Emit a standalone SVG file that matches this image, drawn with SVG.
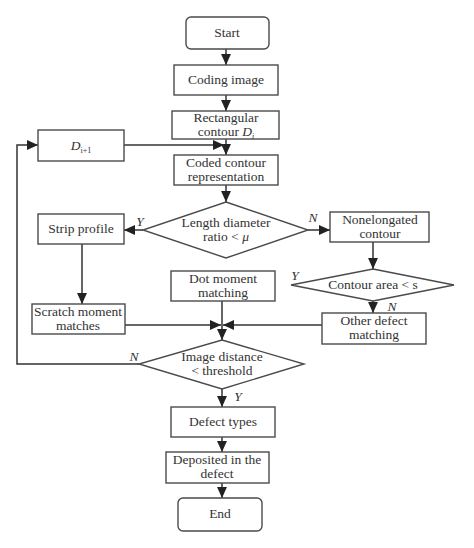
<svg xmlns="http://www.w3.org/2000/svg" width="474" height="548" viewBox="0 0 474 548">
<style>
.box{fill:#fff;stroke:#4a4a4a;stroke-width:1.4}
.ln{fill:none;stroke:#333;stroke-width:1.5}
text{font-family:"Liberation Serif","Times New Roman",serif;font-size:13.5px;fill:#333;text-anchor:middle}
.lab{font-style:italic}
</style>
<defs>
<marker id="ah" markerUnits="userSpaceOnUse" markerWidth="11" markerHeight="11" viewBox="0 0 10 10" refX="10" refY="5" orient="auto">
<path d="M0,0.5 L10,5 L0,9.5 Z" fill="#222"/>
</marker>
</defs>
<rect width="474" height="548" fill="#fff"/>
<g id="connectors">
<line class="ln" x1="226" y1="49" x2="226" y2="65" marker-end="url(#ah)"/>
<line class="ln" x1="226" y1="95" x2="226" y2="111" marker-end="url(#ah)"/>
<line class="ln" x1="226" y1="139" x2="226" y2="155" marker-end="url(#ah)"/>
<line class="ln" x1="124" y1="145" x2="224" y2="145" marker-end="url(#ah)"/>
<line class="ln" x1="226" y1="185" x2="226" y2="202" marker-end="url(#ah)"/>
<line class="ln" x1="143" y1="230" x2="124" y2="230" marker-end="url(#ah)"/>
<line class="ln" x1="308" y1="230" x2="330" y2="230" marker-end="url(#ah)"/>
<line class="ln" x1="373" y1="242" x2="373" y2="269" marker-end="url(#ah)"/>
<line class="ln" x1="373" y1="301" x2="373" y2="313" marker-end="url(#ah)"/>
<line class="ln" x1="82" y1="244" x2="82" y2="304" marker-end="url(#ah)"/>
<line class="ln" x1="125" y1="325" x2="221" y2="325" marker-end="url(#ah)"/>
<line class="ln" x1="322" y1="325" x2="223" y2="325" marker-end="url(#ah)"/>
<line class="ln" x1="222" y1="301" x2="222" y2="340" marker-end="url(#ah)"/>
<polyline class="ln" points="139,364 17,364 17,145 38,145" marker-end="url(#ah)"/>
<line class="ln" x1="222" y1="389" x2="222" y2="407" marker-end="url(#ah)"/>
<line class="ln" x1="222" y1="437" x2="222" y2="452" marker-end="url(#ah)"/>
<line class="ln" x1="222" y1="483" x2="222" y2="498" marker-end="url(#ah)"/>
<text class="lab" x="140" y="226">Y</text>
<text class="lab" x="313" y="222">N</text>
<text class="lab" x="295" y="280">Y</text>
<text class="lab" x="392" y="311">N</text>
<text class="lab" x="134" y="361">N</text>
<text class="lab" x="238" y="401">Y</text>
</g>
<g id="start"><rect class="box" x="186" y="17" width="83" height="32" rx="5"/><text x="227" y="37">Start</text></g>
<g id="coding"><rect class="box" x="174" y="65" width="104" height="30"/><text x="226" y="84">Coding image</text></g>
<g id="rect-contour"><rect class="box" x="172" y="111" width="107" height="28"/><text x="226" y="122">Rectangular</text><text x="226" y="136">contour <tspan font-style="italic">D</tspan><tspan font-size="8" font-style="italic" dy="3">i</tspan></text></g>
<g id="d-next"><rect class="box" x="38" y="130" width="86" height="31"/><text x="81" y="150"><tspan font-style="italic">D</tspan><tspan font-size="8" dy="3">i+1</tspan></text></g>
<g id="coded"><rect class="box" x="174" y="155" width="104" height="30"/><text x="226" y="167">Coded contour</text><text x="226" y="181">representation</text></g>
<g id="ldr"><polygon class="box" points="226,202 308,230 226,258 143,230"/><text x="226" y="227">Length diameter</text><text x="226" y="241">ratio &lt; <tspan font-style="italic">μ</tspan></text></g>
<g id="strip"><rect class="box" x="38" y="214" width="86" height="30"/><text x="81" y="233">Strip profile</text></g>
<g id="nonelong"><rect class="box" x="330" y="212" width="99" height="30"/><text x="380" y="224">Nonelongated</text><text x="380" y="238">contour</text></g>
<g id="area"><polygon class="box" points="373,269 454,285 373,301 291,285"/><text x="373" y="289">Contour area &lt; s</text></g>
<g id="dot"><rect class="box" x="171" y="271" width="104" height="30"/><text x="223" y="283">Dot moment</text><text x="223" y="297">matching</text></g>
<g id="scratch"><rect class="box" x="32" y="304" width="93" height="30"/><text x="78" y="316">Scratch moment</text><text x="78" y="330">matches</text></g>
<g id="other"><rect class="box" x="322" y="313" width="104" height="31"/><text x="374" y="325">Other defect</text><text x="374" y="339">matching</text></g>
<g id="dist"><polygon class="box" points="222,340 304,364 222,389 139,364"/><text x="222" y="361">Image distance</text><text x="222" y="375">&lt; threshold</text></g>
<g id="types"><rect class="box" x="171" y="407" width="104" height="30"/><text x="223" y="426">Defect types</text></g>
<g id="deposit"><rect class="box" x="166" y="452" width="103" height="31"/><text x="217" y="464">Deposited in the</text><text x="217" y="478">defect</text></g>
<g id="end"><rect class="box" x="178" y="498" width="84" height="33" rx="5"/><text x="220" y="518">End</text></g>
</svg>
